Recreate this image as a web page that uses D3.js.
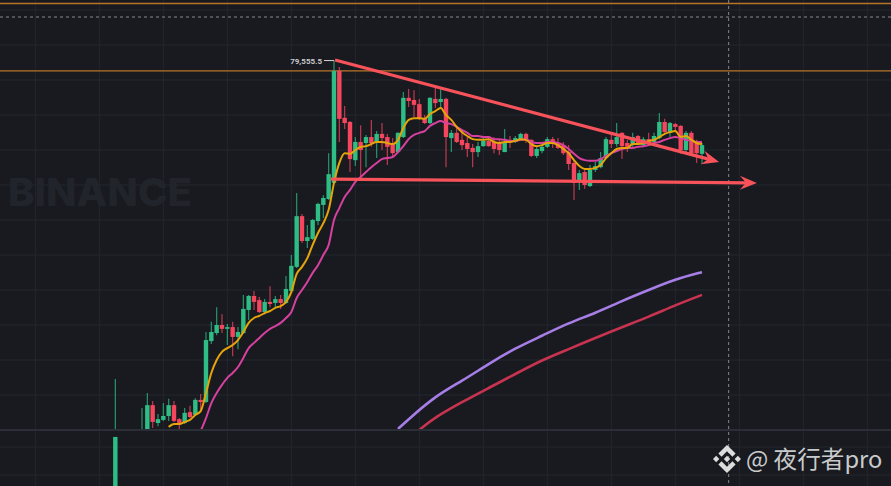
<!DOCTYPE html>
<html>
<head>
<meta charset="utf-8">
<script src="https://cdn.jsdelivr.net/npm/d3@7"></script>
<style>
  html, body { margin: 0; padding: 0; background: #181a20; overflow: hidden; }
  svg { display: block; }
</style>
</head>
<body>
<svg id="chart" width="891" height="486"></svg>
<script>
// candles, one per bar; bars 1-4 sit below the price pane so they stay null
const opens = [67000,null,null,null,null,68000,68970,69710,69200,69290,69400,69710,69310,69200,69510,69430,69860,69800,71540,71770,72000,71890,71940,71660,71770,72430,72830,72710,72370,72660,72630,72740,72630,72970,73660,75110,74400,74460,74970,75430,75600,76060,79260,77920,77800,76710,77230,77200,77370,77230,77460,77370,77200,76940,77370,78490,78430,78310,77910,77770,78460,78370,78460,77340,77490,77290,77200,77060,76940,77110,77260,77230,77200,76940,77290,77230,77290,77460,77290,76830,76970,77090,77310,77200,77140,76940,76630,76090,76370,75970,76430,76510,76770,77290,77170,77490,77200,77140,77400,77140,77310,77230,77340,77800,77510,77740,77690,77000,77490,77230,76890];
const highs = [70460,null,null,null,null,69630,70060,69830,69460,69770,69890,69830,69340,69630,69690,69910,70030,71800,72090,72510,72310,72030,72090,71940,72860,72860,72970,72800,72740,73110,72830,72860,73400,74000,75770,75170,74860,75030,75490,75710,76910,79555.5,79370,78260,77830,77370,77710,77430,77860,77540,77770,77460,77340,77510,78660,78740,78710,78460,78000,78510,78800,78770,78490,77570,77690,77570,77370,77170,77230,77340,77370,77370,77290,77600,77400,77400,77490,77490,77310,77090,77140,77370,77370,77340,77230,77140,76690,76430,76430,76570,76660,76940,77370,77490,77770,77510,77290,77490,77430,77370,77490,77490,78060,77890,77800,77770,77710,77540,77540,77290,77200];
const lows = [67000,null,null,null,null,67900,68900,69060,69110,69260,69260,69230,69030,69170,69340,69400,69540,69770,71460,71710,71770,71430,71110,71310,71740,72140,72430,72340,72310,72510,72510,72460,72600,72940,73630,74340,74200,74430,74860,75060,75570,76030,77230,77600,76370,76540,76200,76510,77090,76770,77000,76570,76800,76910,77340,78230,77940,77860,77740,77740,78200,78200,76510,76940,77200,77000,76800,76510,76800,77090,77090,76910,76860,76940,77060,77200,77260,77200,76800,76770,76910,77060,77060,77030,76860,76430,75570,75860,75890,75940,76370,76480,76740,77060,77090,76740,76940,77090,77140,77090,77140,77200,77310,77490,77370,77510,76890,76940,76860,76630,76600];
const closes = [68800,null,null,null,null,68900,69710,69230,69310,69400,69710,69260,69170,69490,69370,69860,69800,71570,71800,72000,71890,71940,71660,71800,72460,72830,72660,72370,72660,72600,72740,72630,73030,73690,75110,74400,74510,75000,75460,75630,76310,79260,77890,77770,76740,77230,77000,77370,77200,77460,77340,77090,76910,77490,78490,78400,78290,77910,77770,78490,78340,78460,77370,77490,77230,77140,77030,76940,77110,77260,77110,77030,77000,77230,77230,77340,77460,77290,76830,77030,77090,77310,77170,77060,76910,76600,76060,76340,76000,76430,76540,76770,77310,77170,77370,77110,77090,77370,77170,77310,77170,77400,77800,77510,77770,77660,77000,77490,76910,76910,77140];

// fast average starts at bar 10, mid average at bar 16
const fastStart = 10;
const fastMa = [69090,69170,69170,69230,69290,69430,69540,70060,70630,71000,71230,71340,71430,71570,71800,72060,72200,72260,72340,72400,72490,72540,72660,72940,73460,73660,73910,74290,74630,74910,75290,76060,76630,76910,76890,77000,77090,77110,77170,77230,77230,77200,77170,77290,77630,77860,77910,77910,77890,78030,78110,78200,78000,77860,77660,77510,77400,77310,77290,77290,77310,77230,77200,77230,77230,77260,77310,77290,77170,77110,77140,77200,77200,77140,77030,76910,76710,76540,76460,76460,76490,76570,76770,76910,77030,77060,77060,77170,77170,77200,77260,77290,77370,77460,77510,77540,77370,77400,77290,77200,77170];
const midStart = 16;
const midMa = [68970,69340,69770,70060,70290,70490,70630,70800,71060,71340,71490,71630,71770,71890,71970,72060,72200,72370,72770,73000,73230,73490,73710,74000,74290,75000,75340,75660,75860,76090,76230,76370,76510,76630,76740,76770,76800,76940,77110,77310,77430,77490,77540,77690,77770,77830,77770,77740,77660,77570,77490,77400,77400,77370,77370,77310,77310,77290,77260,77260,77290,77310,77230,77200,77200,77230,77230,77200,77140,77030,76890,76770,76710,76690,76690,76740,76830,76910,76970,77030,77060,77060,77090,77110,77140,77200,77230,77290,77340,77370,77340,77290,77260,77230,77230];

// slow averages, read every fifth bar
const slowBars = [53,55,60,65,70,75,80,85,90,95,100,105,110];
const slowA = [69030,69310,69970,70400,70890,71340,71690,72060,72340,72690,73000,73310,73510];
const slowerBars = [57,60,65,70,75,80,85,90,95,100,105,110];
const slowB = [69000,69370,69800,70200,70600,71000,71310,71630,71940,72230,72570,72860];

const volumeBars = [0];
const volumeValues = [4360];

const priceTicks = d3.range(69000, 81001, 1000);
const volumeTicks = [3000, 4000];
const timeTicks = d3.range(-15, 142, 12);

const priceLines = [81186, 79260];
const crossBar = 115;
const crossPrice = 80800;
const highBar = 41;
const highLabel = "79,555.5";

// hand drawn arrows: [bar, price] start and end
const arrows = [
  [[41.2, 79570], [113.2, 76660]],
  [[40.4, 76170], [120.3, 76060]],
];

const up = "#2ebd85";
const down = "#f6465d";
const gridColor = "#23262d";

const width = 891;
const height = 486;
const paneBottom = 429;

const svg = d3.select("#chart");

const x = d3.scaleLinear().domain([-15, 141]).range([35.33, 867.33]);
const y = d3.scaleLinear().domain([80000, 70000]).range([45, 395]);
const yVol = d3.scaleLinear().domain([0, 4000]).range([559, 447]);

svg.append("rect").attr("width", width).attr("height", height).attr("fill", "#181a20");

svg.append("defs").append("clipPath").attr("id", "pane")
  .append("rect").attr("width", width).attr("height", paneBottom);

// watermark
svg.append("text")
  .attr("x", 8)
  .attr("y", 206)
  .attr("font-family", "Inter, Lato, sans-serif")
  .attr("font-weight", 800)
  .attr("font-size", 38)
  .attr("textLength", 184)
  .attr("lengthAdjust", "spacingAndGlyphs")
  .attr("fill", "#21242b")
  .text("BINANCE");

// grid
const grid = svg.append("g").attr("stroke", gridColor).attr("stroke-width", 1);

grid.selectAll(".gx")
  .data(timeTicks)
  .join("line")
  .attr("class", "gx")
  .attr("x1", (d) => x(d))
  .attr("x2", (d) => x(d))
  .attr("y1", 0)
  .attr("y2", height);

grid.selectAll(".gy")
  .data(priceTicks)
  .join("line")
  .attr("class", "gy")
  .attr("x1", 0)
  .attr("x2", width)
  .attr("y1", (d) => y(d))
  .attr("y2", (d) => y(d));

grid.selectAll(".gv")
  .data(volumeTicks)
  .join("line")
  .attr("class", "gv")
  .attr("x1", 0)
  .attr("x2", width)
  .attr("y1", (d) => yVol(d))
  .attr("y2", (d) => yVol(d));

// crosshair
const cross = svg.append("g")
  .attr("stroke", "#85888e")
  .attr("stroke-width", 1)
  .attr("stroke-dasharray", "3 3");
cross.append("line").attr("x1", 0).attr("x2", width).attr("y1", y(crossPrice)).attr("y2", y(crossPrice));
cross.append("line").attr("x1", x(crossBar)).attr("x2", x(crossBar)).attr("y1", 0).attr("y2", height);

// order lines
svg.append("g").selectAll("line")
  .data(priceLines)
  .join("line")
  .attr("x1", 0)
  .attr("x2", width)
  .attr("y1", (d) => y(d))
  .attr("y2", (d) => y(d))
  .attr("stroke", "#b8752a")
  .attr("stroke-width", 1.3);

// pane separator
svg.append("line")
  .attr("x1", 0)
  .attr("x2", width)
  .attr("y1", paneBottom + 1)
  .attr("y2", paneBottom + 1)
  .attr("stroke", "#2b2e36")
  .attr("stroke-width", 2);

// candles
const candles = d3.range(opens.length)
  .filter((i) => opens[i] !== null)
  .map((i) => ({ i, o: opens[i], h: highs[i], l: lows[i], c: closes[i] }));

const pane = svg.append("g").attr("clip-path", "url(#pane)");

pane.append("g").selectAll("line")
  .data(candles)
  .join("line")
  .attr("x1", (d) => x(d.i))
  .attr("x2", (d) => x(d.i))
  .attr("y1", (d) => y(d.h))
  .attr("y2", (d) => y(d.l))
  .attr("stroke", (d) => (d.c >= d.o ? up : down))
  .attr("stroke-opacity", 0.75)
  .attr("stroke-width", 1.2);

pane.append("g").selectAll("rect")
  .data(candles)
  .join("rect")
  .attr("x", (d) => x(d.i) - 2.2)
  .attr("width", 4.4)
  .attr("y", (d) => y(Math.max(d.o, d.c)))
  .attr("height", (d) => Math.max(1.5, Math.abs(y(d.o) - y(d.c))))
  .attr("fill", (d) => (d.c >= d.o ? up : down));

// moving averages
const zipFrom = (start, values) => values.map((v, k) => [start + k, v]);
const zipBars = (bars, values) => values.map((v, k) => [bars[k], v]);

const maSeries = [
  { points: zipBars(slowerBars, slowB), color: "#c8334f", w: 2.6, curve: d3.curveBasis },
  { points: zipBars(slowBars, slowA), color: "#a67ee6", w: 2.6, curve: d3.curveBasis },
  { points: zipFrom(midStart, midMa), color: "#d6409f", w: 2, curve: d3.curveMonotoneX },
  { points: zipFrom(fastStart, fastMa), color: "#e5a50a", w: 2, curve: d3.curveMonotoneX },
];

pane.append("g").selectAll("path")
  .data(maSeries)
  .join("path")
  .attr("d", (d) => d3.line().x((p) => x(p[0])).y((p) => y(p[1])).curve(d.curve)(d.points))
  .attr("fill", "none")
  .attr("stroke", (d) => d.color)
  .attr("stroke-width", (d) => d.w);

// volume
svg.append("g").selectAll("rect")
  .data(volumeBars)
  .join("rect")
  .attr("x", (d) => x(d) - 2.2)
  .attr("width", 4.4)
  .attr("y", (d, k) => yVol(volumeValues[k]))
  .attr("height", (d, k) => yVol(0) - yVol(volumeValues[k]))
  .attr("fill", up);

// highest price marker
const hx = x(highBar);
const hy = y(d3.max(highs));
svg.append("line")
  .attr("x1", hx - 10)
  .attr("x2", hx)
  .attr("y1", hy)
  .attr("y2", hy)
  .attr("stroke", "#d5d6d8")
  .attr("stroke-width", 1);
svg.append("text")
  .attr("x", hx - 12)
  .attr("y", hy + 3)
  .attr("text-anchor", "end")
  .attr("font-family", "Roboto, sans-serif")
  .attr("font-weight", 700)
  .attr("font-size", 8)
  .attr("fill", "#c8c9cc")
  .text(highLabel);

// arrows
const arrowColor = "#f8525a";
const arrowG = svg.append("g");
arrows.forEach(([from, to]) => {
  const x0 = x(from[0]);
  const y0 = y(from[1]);
  const x1 = x(to[0]);
  const y1 = y(to[1]);
  const a = Math.atan2(y1 - y0, x1 - x0);
  const along = (d, off) => [
    x1 - d * Math.cos(a) - off * Math.sin(a),
    y1 - d * Math.sin(a) + off * Math.cos(a),
  ];
  arrowG.append("line")
    .attr("x1", x0)
    .attr("y1", y0)
    .attr("x2", along(10, 0)[0])
    .attr("y2", along(10, 0)[1])
    .attr("stroke", arrowColor)
    .attr("stroke-width", 3.2);
  arrowG.append("polygon")
    .attr("points", [[x1, y1], along(17, 7), along(11, 0), along(17, -7)].join(" "))
    .attr("fill", arrowColor);
});

// logo and credit
svg.append("path")
  .attr("transform", "translate(713,445) scale(0.221)")
  .attr("fill", "#dcdcdc")
  .attr("d", "M38.73 53.2l24.59-24.58 24.6 24.6 14.3-14.31L63.32 0 24.42 38.9l14.31 14.3zM0 63.31L14.3 49l14.31 14.31-14.31 14.3L0 63.31zM38.73 73.41l24.59 24.59 24.6-24.6 14.31 14.29-.01.01-38.9 38.91-38.91-38.88-.02-.02 14.34-14.3zM98 63.31l14.3-14.31 14.31 14.31-14.31 14.3L98 63.31zM77.83 63.3L63.32 48.78 52.59 59.51l-1.24 1.23-2.54 2.54 14.51 14.5 14.51-14.51v-.02z");

svg.append("text")
  .attr("x", 746)
  .attr("y", 468)
  .attr("font-family", "'Noto Sans CJK SC', 'Noto Sans', sans-serif")
  .attr("font-size", 23.6)
  .attr("fill", "#c9cacc")
  .text("@ 夜行者pro");
</script>
</body>
</html>
